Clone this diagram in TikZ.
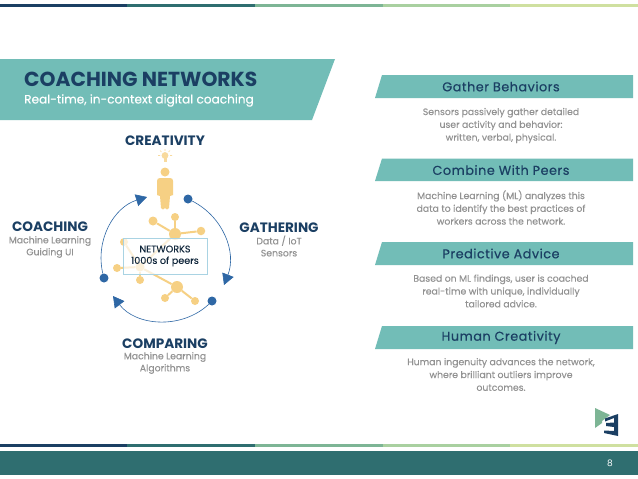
\documentclass[tikz,border=0pt]{standalone}
\usepackage{fontspec}
\setmainfont{Poppins}
\usetikzlibrary{arrows.meta}
\definecolor{navy}{HTML}{1B3F63}
\definecolor{deepteal}{HTML}{2F6E70}
\definecolor{midgreen}{HTML}{7DB595}
\definecolor{palegreen}{HTML}{A9D0A0}
\definecolor{lime}{HTML}{CFE0A0}
\definecolor{bandteal}{HTML}{72BDB7}
\definecolor{ringblue}{HTML}{2E67A5}
\definecolor{peer}{HTML}{F6D084}
\definecolor{bodygrey}{HTML}{929292}
\definecolor{boxblue}{HTML}{A9D3E3}
\tikzset{
  bandbox/.style={fill=bandteal,draw=none},
  bandtext/.style={text=navy,font=\fontsize{12.8}{14}\selectfont\addfontfeature{LetterSpace=4,FakeBold=0.4}},
  bodytext/.style={text=bodygrey,align=center,font=\fontsize{9.3}{12.8}\selectfont\addfontfeature{FakeBold=0.2}},
  sidehead/.style={text=navy,font=\fontsize{13.6}{15}\selectfont\bfseries},
  sidebody/.style={text=bodygrey,align=center,font=\fontsize{9.3}{12}\selectfont\addfontfeature{FakeBold=0.2}},
  peernode/.style={circle,fill=peer,inner sep=0pt,minimum size=#1},
  peernode/.default=8pt,
  ringdot/.style={circle,fill=ringblue,inner sep=0pt,minimum size=9pt},
  ringline/.style={draw=ringblue,line width=0.6pt,-{Triangle[length=11pt,width=12pt,fill=ringblue]}},
  peerlink/.style={draw=peer,line width=2pt},
}
\begin{document}
\begin{tikzpicture}[x=1pt,y=-1pt]
\useasboundingbox (0,0) rectangle (638,479);
\fill[white] (0,0) rectangle (638,479);
% top and bottom rules
\fill[navy] (0,3.5) rectangle (127,6.5); \fill[deepteal] (127,3.5) rectangle (255,6.5); \fill[midgreen] (255,3.5) rectangle (383,6.5);
\fill[palegreen] (383,3.5) rectangle (510,6.5); \fill[lime] (510,3.5) rectangle (638,6.5);
\fill[navy] (0,444) rectangle (127,447); \fill[deepteal] (127,444) rectangle (255,447); \fill[midgreen] (255,444) rectangle (383,447);
\fill[palegreen] (383,444) rectangle (510,447); \fill[lime] (510,444) rectangle (638,447);
\fill[deepteal] (0,451) rectangle (638,475);
\node[text=white,font=\fontsize{9}{11}\selectfont] (pagenum) at (610,463.5) {8};
% title
\fill[bandbox] (0,59) -- (335,59) -- (312,120) -- (0,120) -- cycle;
\node[anchor=west,inner sep=0pt,text=navy,font=\fontsize{20.3}{22}\selectfont\bfseries] (title) at (24,79) {COACHING NETWORKS};
\node[anchor=west,inner sep=0pt,text=white,font=\fontsize{12.1}{14}\selectfont\addfontfeature{FakeBold=0.3}] (subtitle) at (24,100.5) {Real-time, in-context digital coaching};
% right column
\fill[bandbox] (382,75) -- (633,75) -- (633,98) -- (375,98) -- cycle;
\fill[bandbox] (382,158.5) -- (633,158.5) -- (633,181) -- (375,181) -- cycle;
\fill[bandbox] (382,242) -- (633,242) -- (633,265) -- (375,265) -- cycle;
\fill[bandbox] (382,326) -- (633,326) -- (633,349) -- (375,349) -- cycle;
\node[bandtext] (gather) at (501,86.5) {Gather Behaviors};
\node[bandtext] (combine) at (501,170) {Combine With Peers};
\node[bandtext] (predict) at (501,253.5) {Predictive Advice};
\node[bandtext] (human) at (501,337.5) {Human Creativity};
\node[bodytext] (gathertxt) at (501,125.5) {Sensors passively gather detailed\\user activity and behavior:\\written, verbal, physical.};
\node[bodytext] (combinetxt) at (501,207.5) {Machine Learning (ML) analyzes this\\data to identify the best practices of\\workers across the network.};
\node[bodytext] (predicttxt) at (501,291) {Based on ML findings, user is coached\\real-time with unique, individually\\tailored advice.};
\node[bodytext] (humantxt) at (501,374.5) {Human ingenuity advances the network,\\where brilliant outliers improve\\outcomes.};
% left labels
\node[sidehead] (creativity) at (165,141) {CREATIVITY};
\node[sidehead] (coaching) at (50,227) {COACHING};
\node[sidebody] (coachingtxt) at (50,247) {Machine Learning\\Guiding UI};
\node[sidehead] (gathering) at (279,228) {GATHERING};
\node[sidebody] (gatheringtxt) at (279,246) {Data / IoT\\Sensors};
\node[sidehead] (comparing) at (165,344) {COMPARING};
\node[sidebody] (comparingtxt) at (165,363) {Machine Learning\\Algorithms};
% peers network
\node[peernode=12pt] (hubtop) at (175,234) {};
\node[peernode=9pt] (a1) at (153,221) {};
\node[peernode=8pt] (a2) at (175,217) {};
\node[peernode=8.5pt] (a3) at (201,231) {};
\node[peernode=9pt] (hubleft) at (140,267) {};
\node[peernode=8pt] (b1) at (124,242) {};
\node[peernode=8pt] (b2) at (117,268) {};
\node[peernode=8pt] (b3) at (140,280) {};
\node[peernode=12pt] (hubbot) at (177,287) {};
\node[peernode=8pt] (c1) at (165,298) {};
\node[peernode=8pt] (c2) at (195,301) {};
\draw[peerlink] (hubtop) -- (a1); \draw[peerlink] (hubtop) -- (a2); \draw[peerlink] (hubtop) -- (a3);
\draw[peerlink] (hubleft) -- (b1); \draw[peerlink] (hubleft) -- (b2); \draw[peerlink] (hubleft) -- (b3);
\draw[peerlink] (hubbot) -- (c1); \draw[peerlink] (hubbot) -- (c2);
\draw[peerlink] (hubtop) -- (hubleft); \draw[peerlink] (hubleft) -- (hubbot);
\node[draw=boxblue,line width=0.8pt,fill=white,fill opacity=0.7,text opacity=1,text=navy!60!black,align=center,minimum width=84pt,minimum height=36pt,inner sep=0pt,font=\fontsize{9.6}{11.5}\selectfont\addfontfeature{FakeBold=0.2}] (netbox) at (165,256) {NETWORKS\\1000s of peers};
% person and bulb
\fill[peer] (165,172) circle (4.5);
\fill[peer] (160,178) -- (170,178) .. controls (172,178) and (173,179) .. (173,181) -- (173,195) -- (170,196) -- (169,208) .. controls (168,210) and (166,210) .. (165,208) .. controls (164,210) and (162,210) .. (161,208) -- (160,196) -- (157,195) -- (157,181) .. controls (157,179) and (158,178) .. (160,178) -- cycle;
\fill[peer!80] (165,155.5) circle (3.4); \fill[peer!80] (163.5,158) rectangle (166.5,162);
\draw[peer!80,line width=0.6pt] (165,149) -- (165,150.8) (158,155.5) -- (160,155.5) (170,155.5) -- (172,155.5) (160,150.5) -- (161.4,151.9) (170,150.5) -- (168.6,151.9);
% ring
\node[ringdot] (dotright) at (188,199) {};
\node[ringdot] (dotbot) at (212,301) {};
\node[ringdot] (dotleft) at (104,278) {};
\coordinate (tipright) at (224,285);
\coordinate (tipbot) at (113,296);
\coordinate (tipleft) at (147,197);
\draw[ringline] (dotright) to[bend left=42] (tipright);
\draw[ringline] (dotbot) to[bend left=48] (tipbot);
\draw[ringline] (dotleft) to[bend left=43] (tipleft);
% logo
\fill[midgreen] (595,408) -- (610,415) -- (602,421) -- (602,423) -- (595,428) -- cycle;
\fill[navy] (618,414) -- (618,436) -- (604,433) -- (604,430.5) -- (614,431) -- (614,427) -- (606,426) -- (606,423) -- (614,422.5) -- (614,418) -- (605,421.5) -- (605,418.5) -- cycle;
\end{tikzpicture}
\end{document}
